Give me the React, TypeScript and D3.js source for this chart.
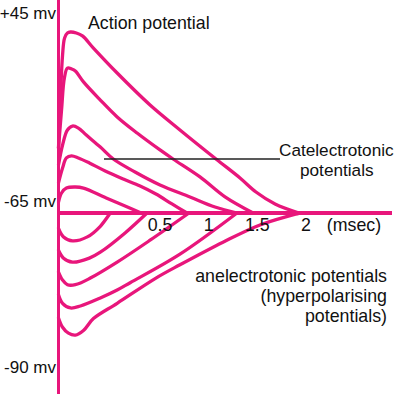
import React from "react";
import * as d3 from "d3";

// ---- data (time in msec, potential in mV) ----
const yTickValues = [45, -65, -90];
const yTickLabels = ["+45 mv", "-65 mv", "-90 mv"];
const xTickValues = [0.5, 1, 1.5, 2];
const xTickLabels = ["0.5", "1", "1.5", "2"];
const xUnitLabel = "(msec)";

// depolarising curves (action potential + catelectrotonic)
const actionPotential: [number, number][] = [
  [0, -27.0], [0.01, 4.0], [0.02, 27.4], [0.03, 37.4], [0.044, 40.3], [0.059, 40.9],
  [0.088, 40.3], [0.118, 38.6], [0.172, 31.5], [0.289, 16.9], [0.451, -1.8],
  [0.705, -16.4], [1.075, -33.4], [1.322, -44.5], [1.486, -52.7], [1.682, -59.7], [1.928, -65],
];
const catel1: [number, number][] = [
  [0, -27], [0.015, -4.7], [0.029, 14], [0.044, 19.8], [0.064, 19.3], [0.083, 18.1],
  [0.123, 11.7], [0.206, 1.1], [0.289, -8.8], [0.387, -18.2], [0.5, -28.1], [0.634, -33.4],
  [0.911, -43.9], [1.168, -55.6], [1.456, -65],
];
const catel2: [number, number][] = [
  [0, -36.9], [0.02, -25.2], [0.044, -16.4], [0.069, -14.1], [0.098, -15.3], [0.137, -19.4],
  [0.206, -26.4], [0.27, -33.4], [0.377, -41], [0.5, -48.6], [0.808, -55.6], [1.065, -61.5], [1.291, -65],
];
const catel3: [number, number][] = [
  [0, -47.4], [0.02, -38.7], [0.039, -32.8], [0.064, -31.6], [0.098, -32.8], [0.152, -35.7],
  [0.23, -40.4], [0.319, -45.1], [0.402, -49.2], [0.48, -53.9], [0.623, -59.7], [0.777, -65],
];
const catel4: [number, number][] = [
  [0, -58.6], [0.015, -53.3], [0.039, -50.4], [0.083, -49.8], [0.123, -50.4], [0.235, -56.2],
  [0.328, -60.9], [0.407, -65],
];

// hyperpolarising curves (anelectrotonic)
const anel1: [number, number][] = [
  [0, -67.3], [0.025, -68.6], [0.069, -69.2], [0.142, -68.6], [0.206, -67.0], [0.255, -65],
];
const anel2: [number, number][] = [
  [0, -70.6], [0.025, -71.8], [0.069, -72.4], [0.152, -71.8], [0.206, -70.9], [0.328, -68.0], [0.436, -65],
];
const anel3: [number, number][] = [
  [0, -73.9], [0.02, -75.1], [0.044, -75.8], [0.083, -75.8], [0.157, -74.8], [0.289, -72.4],
  [0.451, -69.1], [0.798, -65],
];
const anel4: [number, number][] = [
  [0, -77.3], [0.02, -78.6], [0.059, -79.3], [0.108, -79.0], [0.206, -77.8], [0.289, -76.6],
  [0.353, -75.5], [0.705, -71.2], [1.291, -65],
];
const anel5: [number, number][] = [
  [0, -80.8], [0.02, -82.2], [0.049, -83.1], [0.083, -83.4], [0.123, -82.7], [0.172, -80.9],
  [0.289, -78.6], [0.48, -74.8], [0.705, -72.8], [1.147, -69.4], [1.527, -66.8], [1.938, -65],
];

const curves = [actionPotential, catel1, catel2, catel3, catel4, anel1, anel2, anel3, anel4, anel5];

const W = 398;
const H = 394;
const PINK = "#E8167B";
const FONT = "'Liberation Sans', Arial, sans-serif";
const FS = 17.8;

export default function App() {
  // schematic (piecewise linear) scales
  const x = d3.scaleLinear().domain([0, 0.5, 2, 2.44]).range([58.5, 160, 306, 392]);
  const y = d3.scaleLinear().domain([-90, -65, 45]).range([379, 213, 25]);

  const line = d3
    .line<[number, number]>()
    .x((d) => x(d[0]))
    .y((d) => y(d[1]))
    .curve(d3.curveCatmullRom.alpha(0.5));

  const restY = y(-65);

  return (
    <svg
      width={W}
      height={H}
      style={{ position: "absolute", left: 0, top: 0, background: "#fff" }}
      fontFamily={FONT}
    >
      <rect width={W} height={H} fill="#fff" />
      {/* curves */}
      {curves.map((c, i) => (
        <path key={i} d={line(c) || ""} fill="none" stroke={PINK} strokeWidth={3.3} strokeLinejoin="round" strokeLinecap="round" />
      ))}
      {/* axes */}
      <line x1={x(0)} x2={x(0)} y1={0} y2={H} stroke={PINK} strokeWidth={3} />
      <line x1={x(0)} x2={x(2.44)} y1={restY} y2={restY} stroke={PINK} strokeWidth={4} />

      {/* y tick labels */}
      {yTickValues.map((v, i) => (
        <text key={v} x={56} y={y(v) - 6} textAnchor="end" fontSize={17} fill="#111">
          {yTickLabels[i]}
        </text>
      ))}
      {/* x tick labels */}
      {xTickValues.map((v, i) => (
        <text key={v} x={x(v)} y={restY + 18} textAnchor="middle" fontSize={FS} fill="#111">
          {xTickLabels[i]}
        </text>
      ))}
      <text x={354} y={restY + 18} textAnchor="middle" fontSize={FS} fill="#111">
        {xUnitLabel}
      </text>

      {/* annotations */}
      <text x={88} y={29} fontSize={FS} fill="#111">Action potential</text>
      <line x1={104} x2={280} y1={159} y2={159} stroke="#222" strokeWidth={1.3} />
      <text x={279} y={156} fontSize={17.2} fill="#111">Catelectrotonic</text>
      <text x={300} y={176} fontSize={17.2} fill="#111">potentials</text>
      <text x={387} y={282} textAnchor="end" fontSize={FS} fill="#111">anelectrotonic potentials</text>
      <text x={387} y={302} textAnchor="end" fontSize={FS} fill="#111">(hyperpolarising</text>
      <text x={387} y={322} textAnchor="end" fontSize={FS} fill="#111">potentials)</text>
    </svg>
  );
}
